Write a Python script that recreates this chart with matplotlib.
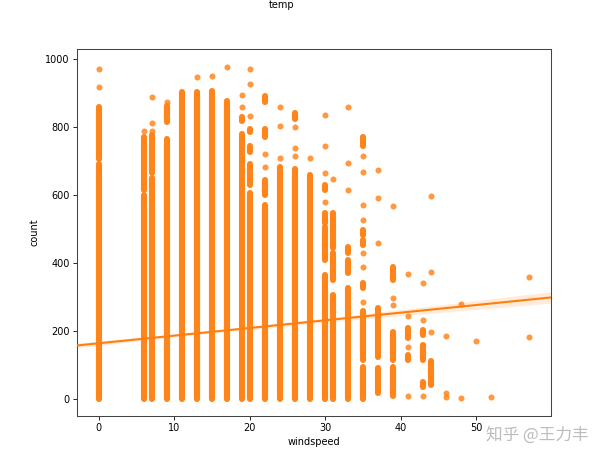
import matplotlib
matplotlib.use('Agg')
import matplotlib.pyplot as plt
import numpy as np

# windspeed levels seen as columns in the picture
windspeed = [0, 6, 7, 9, 11, 13, 15, 17, 19, 20, 22, 24, 26, 28, 30, 31,
             33, 35, 37, 39, 41, 43, 44, 46, 48, 50, 52, 57]

# solid stacks of overlapping points per column: (lowest count, highest count)
stacks = {
    0: [(0, 691), (706, 859)],
    6: [(0, 600), (615, 770)],
    7: [(0, 650), (665, 775)],
    9: [(0, 765), (815, 860)],
    11: [(0, 903)],
    13: [(0, 903)],
    15: [(0, 906)],
    17: [(0, 876)],
    19: [(0, 780), (818, 830)],
    20: [(0, 606), (629, 691), (726, 744), (785, 794)],
    22: [(0, 570), (600, 644), (771, 794), (873, 891)],
    24: [(0, 682)],
    26: [(0, 676), (824, 841)],
    28: [(0, 659)],
    30: [(0, 365), (409, 506), (518, 547), (615, 629)],
    31: [(0, 306), (350, 429), (444, 547)],
    33: [(0, 326), (371, 409), (430, 447)],
    35: [(0, 95), (115, 257), (326, 341), (453, 468), (482, 497), (744, 771)],
    37: [(18, 91), (124, 268)],
    39: [(7, 95), (115, 198), (350, 389)],
    41: [(115, 129), (179, 209)],
    43: [(36, 51), (115, 159), (188, 203)],
    44: [(41, 110)],
}

# single points per column
singles = {
    0: [970, 918],
    6: [788],
    7: [888, 812, 788],
    9: [873],
    13: [947],
    15: [950],
    17: [977],
    19: [894, 859],
    20: [970, 926, 832],
    22: [720, 682],
    24: [859, 803, 709],
    26: [800, 738, 715],
    28: [709],
    30: [835, 744, 665, 579],
    31: [648],
    33: [859, 694, 615],
    35: [715, 668, 570, 526, 429, 388, 286],
    37: [674, 591, 459],
    39: [568, 297, 276],
    41: [368, 245, 154, 7],
    43: [342, 232, 7],
    44: [597, 374, 198],
    46: [185, 16, 5],
    48: [279, 3],
    50: [171],
    52: [5],
    57: [358, 181],
}

# fitted line and its confidence band
fit_intercept = 163.5
fit_slope = 2.25
band_x = [-2.9, 13, 30, 45, 59.9]
band_half = [7, 3.5, 6, 11, 17]

orange = '#ff7f0e'

fig = plt.figure(figsize=(6, 4.58), dpi=100)
ax = fig.add_axes([0.128, 0.092, 0.79, 0.801])

for w in windspeed:
    for lo, hi in stacks.get(w, []):
        ax.vlines(w, lo, hi, color=orange, linewidth=4.4, capstyle='round',
                  alpha=0.95, zorder=2)
    ys = singles.get(w, [])
    ax.scatter([w] * len(ys), ys, s=19, color=orange, alpha=0.8,
               linewidths=0, zorder=3)

lx = np.array(band_x)
ly = fit_intercept + fit_slope * lx
ax.fill_between(lx, ly - np.array(band_half), ly + np.array(band_half),
                color=orange, alpha=0.15, linewidth=0, zorder=4)
ax.plot(lx, ly, color=orange, linewidth=1.5, zorder=5)

ax.set_xlim(-2.9, 59.9)
ax.set_ylim(-50, 1029)
ax.set_xticks([0, 10, 20, 30, 40, 50])
ax.set_yticks([0, 200, 400, 600, 800, 1000])
ax.tick_params(labelsize=7, length=2.6, width=0.6, pad=2.5)
for sp in ax.spines.values():
    sp.set_linewidth(0.75)
    sp.set_color('#444444')
ax.set_xlabel('windspeed', fontsize=7, labelpad=3)
ax.set_ylabel('count', fontsize=7, labelpad=4)

# title sits at the very top edge
fig.text(0.47, 0.999, 'temp', fontsize=7, ha='center', va='top')
fig.text(0.895, 0.05, '知乎 @王力丰', fontsize=12, color='#bcbcbc',
         ha='center', va='center',
         family=['Noto Sans CJK SC', 'DejaVu Sans'])

fig.savefig('out.png', dpi=100)
